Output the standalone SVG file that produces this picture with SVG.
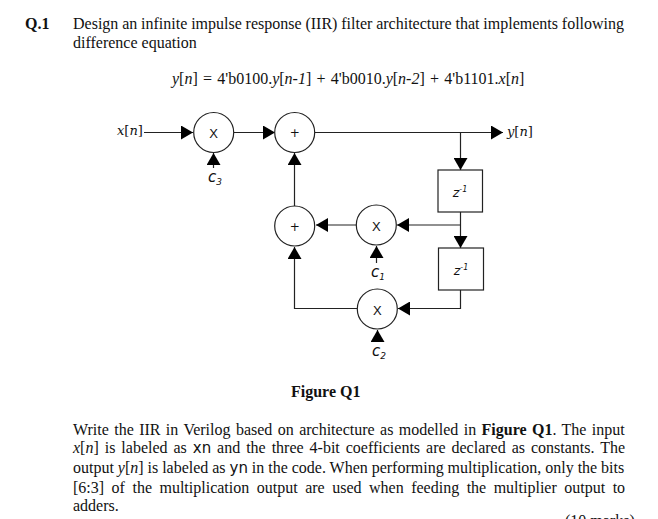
<svg xmlns="http://www.w3.org/2000/svg" width="658" height="519" viewBox="0 0 658 519">
<style>
text{font-family:"Liberation Serif","Times New Roman",serif;font-size:16px;fill:#111}
.b{font-weight:bold}
.i{font-style:italic}
.m{font-family:"DejaVu Sans",sans-serif;font-size:15px}
.n{fill:#fff;stroke:#222;stroke-width:1.2}
.l{fill:none;stroke:#222;stroke-width:1.2}
.t{font-family:"DejaVu Sans",sans-serif;font-size:12px;text-anchor:middle}
.x{font-family:"Liberation Sans",sans-serif;font-size:13px;text-anchor:middle}
.z{font-family:"DejaVu Sans",sans-serif;font-style:italic;font-size:12.500px;text-anchor:middle}
.s{font-size:8px}
.c{font-family:"DejaVu Sans",sans-serif;font-style:italic;font-size:15px;text-anchor:middle}
.cs{font-size:9px}
.lb{font-family:"DejaVu Serif",serif;font-size:13px}
</style>
<defs>
<marker id="a" markerUnits="userSpaceOnUse" markerWidth="14" markerHeight="14" refX="12" refY="7" orient="auto"><path d="M0 0L12 7L0 14Z" fill="#000"/></marker>
</defs>
<rect width="658" height="519" fill="#fff"/>
<g id="text-top">
<text class="b" x="25" y="29">Q.1</text>
<text x="73" y="29" word-spacing="-0.170">Design an infinite impulse response (IIR) filter architecture that implements following</text>
<text x="73" y="48">difference equation</text>
<text x="172" y="84" word-spacing="1.250"><tspan class="i">y</tspan>[<tspan class="i">n</tspan>] = 4'b0100.<tspan class="i">y</tspan>[<tspan class="i">n-1</tspan>] + 4'b0010.<tspan class="i">y</tspan>[<tspan class="i">n-2</tspan>] + 4'b1101.<tspan class="i">x</tspan>[<tspan class="i">n</tspan>]</text>
</g>
<g id="connectors">
<path class="l" d="M144 132.500H193" marker-end="url(#a)"/>
<path class="l" d="M234 132.500H275" marker-end="url(#a)"/>
<path class="l" d="M315 132.500H503" marker-end="url(#a)"/>
<path class="l" d="M460.500 132.500V170" marker-end="url(#a)"/>
<path class="l" d="M460.500 212V248" marker-end="url(#a)"/>
<path class="l" d="M460.500 225H397" marker-end="url(#a)"/>
<path class="l" d="M356 225H316" marker-end="url(#a)"/>
<path class="l" d="M460.500 290V308.500H398" marker-end="url(#a)"/>
<path class="l" d="M357 308.500H294.500V247" marker-end="url(#a)"/>
<path class="l" d="M294.500 206V153" marker-end="url(#a)"/>
<path class="l" d="M213.500 168V153" marker-end="url(#a)"/>
<path class="l" d="M376.500 263V246" marker-end="url(#a)"/>
<path class="l" d="M377.500 342V330" marker-end="url(#a)"/>
</g>
<g id="xn"><text class="lb" x="117" y="135"><tspan font-style="italic">x</tspan>[<tspan font-style="italic">n</tspan>]</text></g>
<g id="mul3"><circle class="n" cx="213.700" cy="132.500" r="20"/><text class="x" x="213.700" y="138">X</text></g>
<g id="c3"><text class="c" x="215" y="182">c<tspan class="cs" dy="3">3</tspan></text></g>
<g id="add1"><circle class="n" cx="294.700" cy="132.500" r="20"/><text class="t" x="294.700" y="137">+</text></g>
<g id="add2"><circle class="n" cx="294.700" cy="226" r="20"/><text class="t" x="294.700" y="230.500">+</text></g>
<g id="mul1"><circle class="n" cx="376.300" cy="225" r="20"/><text class="x" x="376.300" y="231">X</text></g>
<g id="c1"><text class="c" x="378" y="277">c<tspan class="cs" dy="3">1</tspan></text></g>
<g id="mul2"><circle class="n" cx="377.300" cy="309" r="20"/><text class="x" x="377.300" y="315">X</text></g>
<g id="c2"><text class="c" x="379" y="356">c<tspan class="cs" dy="3">2</tspan></text></g>
<g id="z1"><rect class="n" x="438" y="170" width="44.500" height="42"/><text class="z" x="460" y="197">z<tspan class="s" dy="-5">-1</tspan></text></g>
<g id="z2"><rect class="n" x="438.500" y="248" width="45" height="42"/><text class="z" x="461" y="275">z<tspan class="s" dy="-5">-1</tspan></text></g>
<g id="yn"><text class="lb" x="507" y="136"><tspan font-style="italic">y</tspan>[<tspan font-style="italic">n</tspan>]</text></g>
<g id="text-bottom">
<text class="b" x="291" y="397">Figure Q1</text>
<text x="73" y="435" word-spacing="1.400">Write the IIR in Verilog based on architecture as modelled in <tspan class="b">Figure Q1</tspan>. The input</text>
<text x="73" y="453" word-spacing="1.950"><tspan class="i">x</tspan>[<tspan class="i">n</tspan>] is labeled as <tspan class="m">xn</tspan> and the three 4-bit coefficients are declared as constants. The</text>
<text x="73" y="473" word-spacing="-0.070">output <tspan class="i">y</tspan>[<tspan class="i">n</tspan>] is labeled as <tspan class="m">yn</tspan> in the code. When performing multiplication, only the bits</text>
<text x="73" y="493" word-spacing="3.500">[6:3] of the multiplication output are used when feeding the multiplier output to</text>
<text x="73" y="511">adders.</text>
<text x="565" y="526">(10 marks)</text>
</g>
</svg>
